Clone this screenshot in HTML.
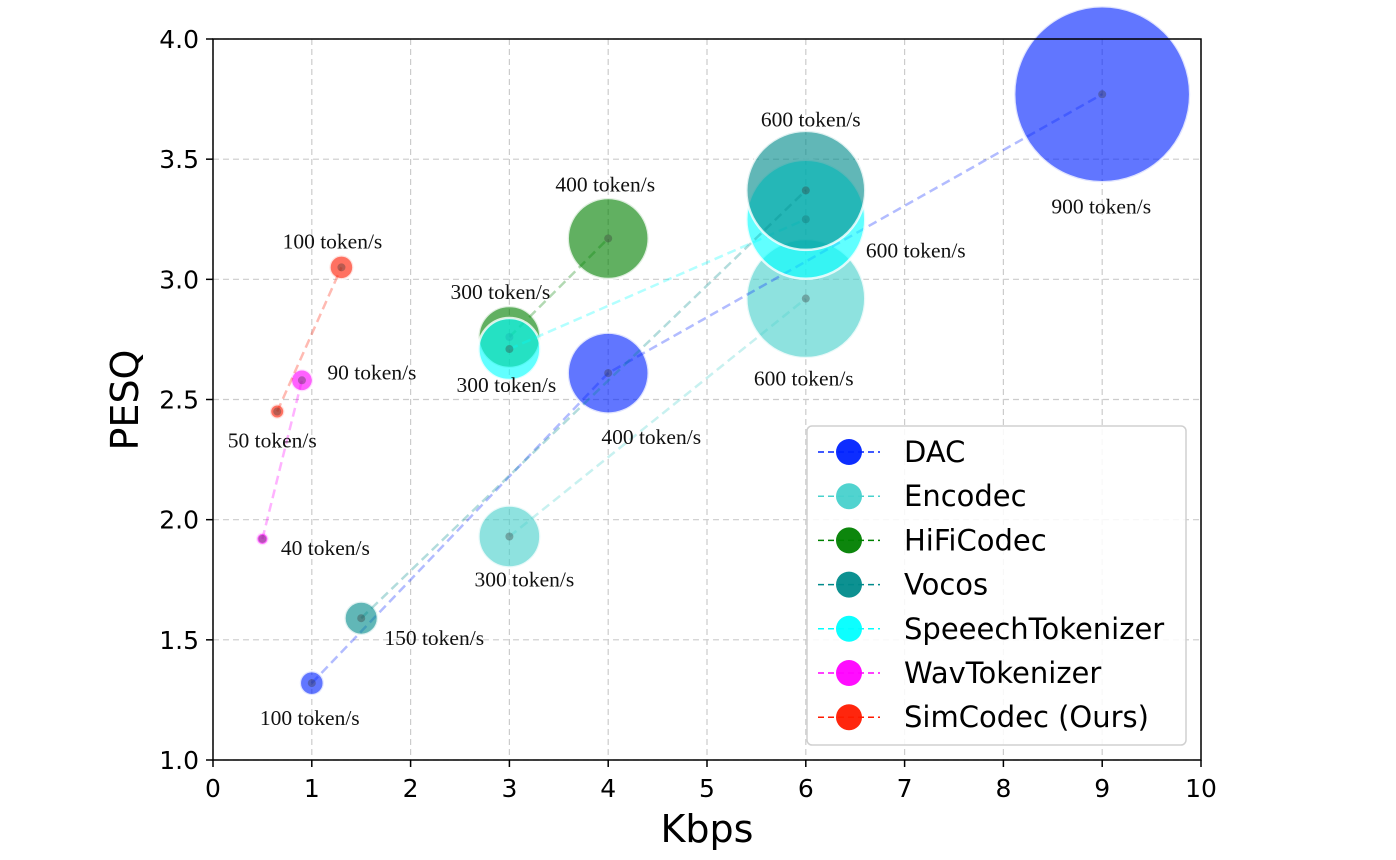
<!DOCTYPE html>
<html><head><meta charset="utf-8"><style>
html,body{margin:0;padding:0;background:#fff;}
svg{display:block;}
</style></head><body>
<svg id="chart" width="1396" height="860" xmlns="http://www.w3.org/2000/svg">
  <g id="grid"></g>
  <g id="series"></g>
  <g id="labels"></g>
  <g id="axes"></g>
  <g id="legend"></g>
</svg>
<script>
const seriesNames = ["Encodec","DAC","HiFiCodec","SpeeechTokenizer","Vocos","WavTokenizer","SimCodec (Ours)"];
const legendOrder = ["DAC","Encodec","HiFiCodec","Vocos","SpeeechTokenizer","WavTokenizer","SimCodec (Ours)"];
const kbpsValues = {
  "DAC":[1,4,9],
  "Encodec":[3,6],
  "HiFiCodec":[3,4],
  "Vocos":[1.5,6],
  "SpeeechTokenizer":[3,6],
  "WavTokenizer":[0.5,0.9],
  "SimCodec (Ours)":[0.65,1.3]
};
const pesqValues = {
  "DAC":[1.32,2.61,3.77],
  "Encodec":[1.93,2.92],
  "HiFiCodec":[2.76,3.17],
  "Vocos":[1.59,3.37],
  "SpeeechTokenizer":[2.71,3.25],
  "WavTokenizer":[1.92,2.58],
  "SimCodec (Ours)":[2.45,3.05]
};
const tokenRates = {
  "DAC":[100,400,900],
  "Encodec":[300,600],
  "HiFiCodec":[300,400],
  "Vocos":[150,600],
  "SpeeechTokenizer":[300,600],
  "WavTokenizer":[40,90],
  "SimCodec (Ours)":[50,100]
};
const xTicks = [0,1,2,3,4,5,6,7,8,9,10];
const yTicks = [1.0,1.5,2.0,2.5,3.0,3.5,4.0];
const colors = {"DAC":"#0022ff","Encodec":"#48d1cc","HiFiCodec":"#008000","Vocos":"#008b8b","SpeeechTokenizer":"#00ffff","WavTokenizer":"#ff00ff","SimCodec (Ours)":"#ff1a00"};

const NS="http://www.w3.org/2000/svg";
const X0=213,X1=1201,Y0=760,Y1=39;
function sx(v){return X0+(v-0)/(10-0)*(X1-X0);}
function sy(v){return Y0-(v-1)/(4-1)*(Y0-Y1);}
function rr(t){return 0.095*t+2.5;}
function mk(tag,attrs,parent){const e=document.createElementNS(NS,tag);for(const k in attrs)e.setAttribute(k,attrs[k]);parent.appendChild(e);return e;}
const grid=document.getElementById('grid'),ser=document.getElementById('series'),lab=document.getElementById('labels'),ax=document.getElementById('axes'),leg=document.getElementById('legend');
const SANS='"DejaVu Sans","Liberation Sans",sans-serif';
xTicks.forEach(t=>{
  const l=mk('line',{x1:sx(t),x2:sx(t),y1:Y1,y2:Y0,stroke:'#cccccc','stroke-width':1.2,'stroke-dasharray':'6,4'},grid);
  
  
  const tk=mk('line',{x1:sx(t),x2:sx(t),y1:Y0,y2:Y0+7,stroke:'#000','stroke-width':1.5},ax);
  
  
  const tx=mk('text',{x:sx(t),y:Y0+37,'text-anchor':'middle','font-family':SANS,'font-size':25},ax);
  tx.textContent=t;
  
  
});
yTicks.forEach(t=>{
  const l=mk('line',{x1:X0,x2:X1,y1:sy(t),y2:sy(t),stroke:'#cccccc','stroke-width':1.2,'stroke-dasharray':'6,4'},grid);
  
  
  const tk=mk('line',{x1:X0-7,x2:X0,y1:sy(t),y2:sy(t),stroke:'#000','stroke-width':1.5},ax);
  
  
  const tx=mk('text',{x:X0-14,y:sy(t)+9,'text-anchor':'end','font-family':SANS,'font-size':25},ax);
  tx.textContent=t.toFixed(1);
  
  
});
const frame=mk('rect',{x:X0,y:Y1,width:X1-X0,height:Y0-Y1,fill:'none',stroke:'#000','stroke-width':1.5},ax);


const xt=mk('text',{x:(X0+X1)/2,y:842,'text-anchor':'middle','font-family':SANS,'font-size':38},ax);
xt.textContent='Kbps';


const yt=mk('text',{x:0,y:0,'text-anchor':'middle','font-family':SANS,'font-size':38,transform:'translate(138,400) rotate(-90)'},ax);
yt.textContent='PESQ';



const labelDelta={
 "DAC":[[-2,35],[43,64],[-1,112]],
 "Encodec":[[15,43],[-2,80]],
 "HiFiCodec":[[-9,-45],[-3,-54]],
 "Vocos":[[73,20],[5,-71]],
 "SpeeechTokenizer":[[-3,36],[110,31]],
 "WavTokenizer":[[63,9],[70,-8]],
 "SimCodec (Ours)":[[-5,29],[-9,-26]]
};
const slug=n=>n.toLowerCase().replace(/[^a-z]+/g,'-').replace(/-$/,'');
seriesNames.forEach(n=>{
  const xs=kbpsValues[n],ys=pesqValues[n],ts=tokenRates[n],c=colors[n];
  const g=mk('g',{},ser);
  
  
  xs.forEach((x,i)=>{
    const ci=mk('circle',{cx:sx(x),cy:sy(ys[i]),r:rr(ts[i]),fill:c,'fill-opacity':0.62,stroke:'#fff','stroke-width':2.5,'stroke-opacity':0.8},g);
    
    
  });
  const pts=xs.map((x,i)=>sx(x)+','+sy(ys[i])).join(' ');
  const pl=mk('polyline',{points:pts,fill:'none',stroke:c,'stroke-opacity':0.3,'stroke-width':2.5,'stroke-dasharray':'9,5'},g);
  
  
  xs.forEach((x,i)=>{
    const d=mk('circle',{cx:sx(x),cy:sy(ys[i]),r:4,fill:'#333','fill-opacity':0.35},g);
    
    
    const dl=labelDelta[n][i];
    const t=mk('text',{x:sx(x)+dl[0],y:sy(ys[i])+dl[1]+7,'text-anchor':'middle','font-family':'"Liberation Serif",serif','font-size':21.5,fill:'#111'},lab);
    t.textContent=ts[i]+' token/s';
    
    
  });
});
const lf=mk('rect',{x:807,y:426,width:379,height:319,rx:5,fill:'#fff','fill-opacity':0.85,stroke:'#d0d0d0','stroke-width':1.5},leg);


legendOrder.forEach((n,i)=>{
  const y=452+i*44.2;
  const g=mk('g',{},leg);
  
  
  mk('line',{x1:818,x2:880,y1:y,y2:y,stroke:colors[n],'stroke-width':1.5,'stroke-dasharray':'6,4'},g);
  mk('circle',{cx:849,cy:y,r:13,fill:colors[n],'fill-opacity':0.95},g);
  const t=mk('text',{x:904,y:y+10,'font-family':SANS,'font-size':29,fill:'#000'},g);
  t.textContent=n;
});
</script>
</body></html>
